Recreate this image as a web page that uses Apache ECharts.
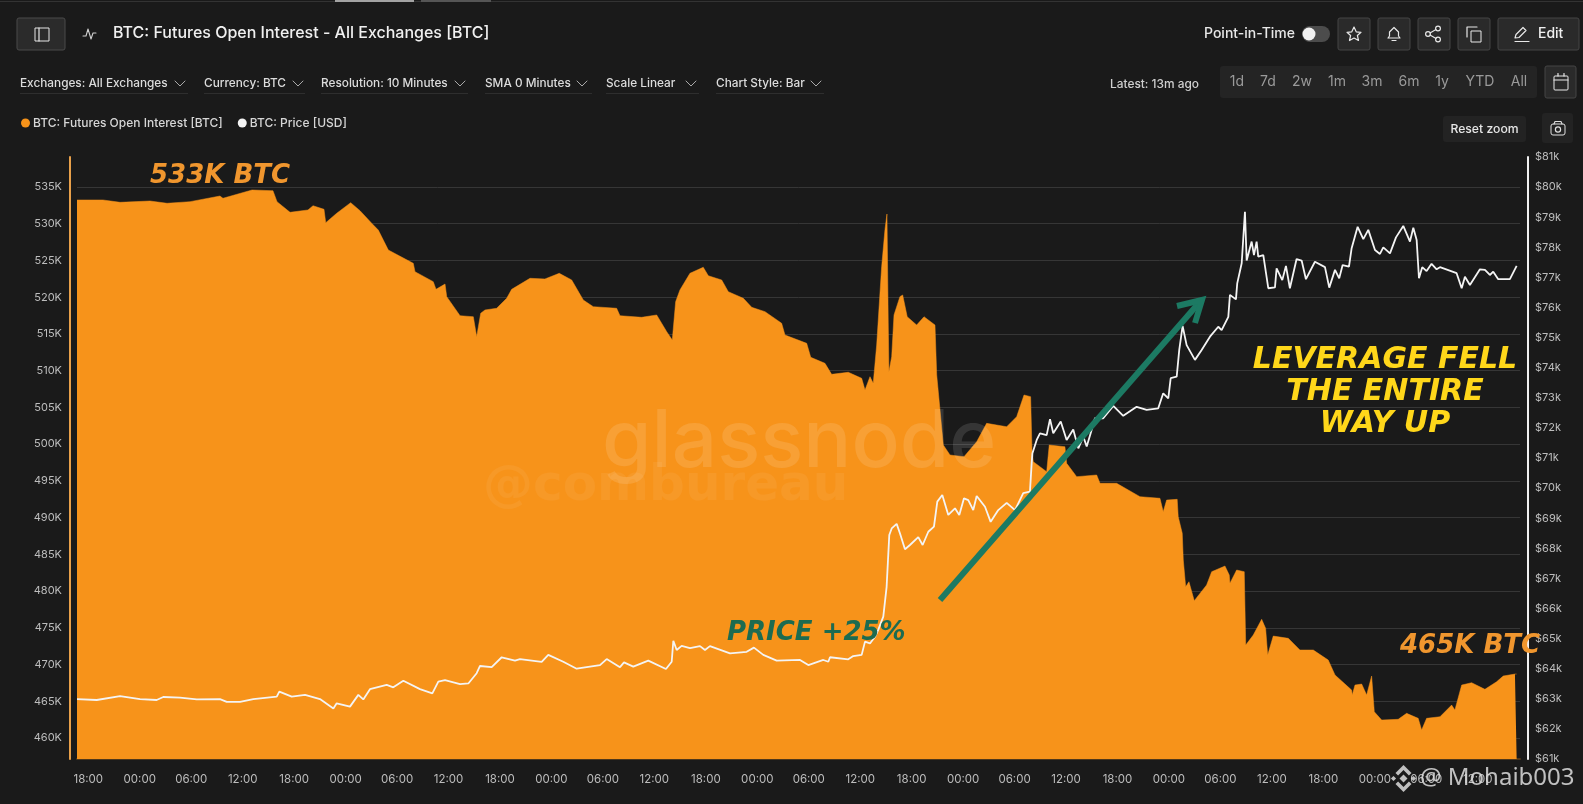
<!DOCTYPE html>
<html>
<head>
<meta charset="utf-8">
<style>html,body{margin:0;padding:0;background:#1a1a1a;overflow:hidden}#c{width:1583px;height:804px}</style>
<script src="https://cdn.jsdelivr.net/npm/echarts@6/dist/echarts.min.js"></script>
</head>
<body>
<div id="c"></div>
<script>
// hours since the midnight before the first 18:00 tick
var oiHours = [16.68,19.71,21.70,25.19,27.18,29.86,33.35,33.70,37.09,39.53,40.00,41.52,43.61,44.20,45.48,45.68,46.96,48.59,49.68,51.04,51.81,52.98,55.89,56.09,58.22,58.54,59.59,59.79,61.34,62.89,63.28,63.75,64.25,65.61,66.78,67.36,69.50,71.24,72.91,74.36,75.71,76.88,79.60,79.99,82.52,84.27,85.44,86.09,86.48,86.98,88.15,89.70,90.29,91.85,92.62,94.37,95.35,96.90,98.84,99.23,101.76,102.23,103.89,104.67,106.61,108.17,108.56,109.14,109.52,109.92,110.50,110.89,111.12,111.27,111.35,111.67,111.94,112.63,112.95,113.48,114.58,115.44,116.72,116.92,117.69,118.47,120.10,121.58,122.74,125.08,126.24,127.10,127.87,128.03,128.18,129.74,130.04,131.87,132.07,133.24,135.57,135.96,137.90,140.62,142.95,143.33,143.73,144.96,145.08,145.55,145.67,145.95,146.33,146.95,148.39,148.98,150.53,151.03,151.11,151.89,152.78,152.95,153.83,154.81,155.27,155.51,156.16,157.91,159.27,160.83,162.57,163.36,165.30,165.37,165.69,166.47,167.05,167.63,167.82,167.94,168.80,170.73,171.71,173.06,173.46,174.04,175.60,176.96,177.34,178.13,179.29,180.84,182.20,182.97,184.34,184.54];
var oiValues = [533.23,533.23,532.91,533.09,532.78,533.00,533.77,533.46,534.59,534.49,533.00,531.55,531.87,532.45,531.96,530.14,531.42,532.86,531.77,530.06,529.14,526.42,524.61,523.47,522.11,521.07,521.79,520.07,517.48,517.34,514.62,517.81,518.26,518.49,519.85,521.07,522.57,522.48,523.25,522.34,519.62,518.71,518.49,517.48,517.26,517.58,515.30,514.17,519.39,520.98,523.25,524.07,522.92,522.34,520.75,519.85,518.62,518.03,516.45,514.85,513.72,511.82,511.00,509.50,509.78,508.96,507.37,509.18,508.28,513.49,524.15,529.24,531.32,516.49,509.86,511.90,517.58,520.07,520.30,517.34,516.21,517.34,516.21,509.41,499.88,498.52,498.29,500.33,502.83,502.37,503.73,506.69,506.46,499.20,497.61,496.25,499.88,499.65,497.39,495.57,495.80,494.67,494.67,492.85,492.63,490.80,492.39,492.49,490.12,487.86,484.23,480.60,481.27,478.69,480.83,482.64,483.41,482.19,481.06,482.87,482.64,472.66,474.02,476.16,474.93,471.30,473.88,473.57,471.98,471.98,470.62,468.58,466.53,465.85,467.21,467.35,465.85,468.44,468.35,463.58,462.45,462.55,463.36,462.68,461.09,462.68,462.90,464.49,463.81,467.21,467.53,466.63,467.66,468.44,468.71,468.71];
var priceHours = [16.68,18.98,21.70,24.03,25.97,26.74,28.69,30.64,33.35,34.14,35.69,37.24,39.97,40.27,41.72,43.27,45.01,46.57,46.96,48.51,49.48,50.06,50.84,52.79,53.56,54.73,56.67,58.11,58.81,59.59,61.34,62.31,63.28,63.67,65.03,66.20,67.75,68.33,70.86,71.63,73.38,74.94,77.66,78.44,79.99,80.46,81.54,83.29,85.35,86.02,86.21,86.60,87.18,88.15,89.32,89.90,90.48,92.82,94.76,95.61,96.70,98.26,100.98,101.95,103.70,104.28,104.48,106.61,107.19,108.17,108.56,109.14,109.72,110.10,110.69,111.08,111.39,111.67,112.25,112.63,113.22,113.80,114.77,115.28,115.94,116.60,116.99,117.57,118.27,119.05,119.55,120.10,120.60,121.18,121.58,122.55,123.21,124.10,125.08,126.05,127.01,127.79,127.99,128.08,128.58,128.96,129.74,130.13,130.51,131.38,132.07,132.84,133.43,134.01,134.41,134.87,135.37,136.34,137.51,138.67,140.23,141.40,142.75,143.33,143.92,144.20,144.90,145.20,145.59,146.06,147.03,147.81,148.78,149.75,150.14,150.92,151.11,151.81,151.96,152.48,152.86,153.06,153.64,153.91,154.22,154.41,155.00,155.58,156.36,156.55,157.21,157.64,158.10,158.88,159.47,159.97,161.02,162.19,162.69,163.36,163.85,164.25,164.99,165.30,166.00,166.66,167.24,168.02,168.60,168.99,169.77,170.47,171.32,172.10,172.49,172.88,173.15,173.53,174.04,174.62,175.21,175.60,177.54,178.13,178.51,179.09,180.26,180.84,181.42,181.81,182.39,183.75,184.54];
var priceValues = [62.99,62.96,63.09,62.99,62.96,63.06,63.04,62.98,62.99,62.90,62.90,62.99,63.07,63.24,63.07,63.13,62.99,62.68,62.85,62.74,63.13,62.98,63.32,63.46,63.38,63.60,63.32,63.18,63.57,63.62,63.49,63.51,63.85,64.09,64.05,64.38,64.27,64.32,64.23,64.46,64.23,64.00,64.12,64.32,64.05,64.21,64.07,64.27,63.99,64.23,64.93,64.62,64.76,64.68,64.75,64.62,64.75,64.51,64.56,64.70,64.46,64.27,64.29,64.12,64.29,64.23,64.38,64.31,64.42,64.46,64.90,64.84,65.06,65.29,65.73,66.72,68.44,68.66,68.81,68.50,67.97,68.11,68.37,68.11,68.55,68.72,69.55,69.77,69.11,69.33,69.11,69.66,69.60,69.27,69.74,69.38,68.88,69.27,69.51,69.27,69.83,69.88,70.82,71.16,71.60,71.82,71.76,72.29,71.82,72.21,71.60,71.95,71.32,71.71,71.38,71.82,72.32,72.32,72.73,72.40,72.70,72.60,72.65,73.15,72.98,73.65,73.70,74.59,75.39,74.75,74.26,74.59,75.03,75.36,75.25,75.69,76.42,76.27,76.80,77.47,79.18,77.56,78.19,77.74,78.19,77.69,77.74,76.64,76.67,77.30,76.91,77.38,76.64,77.61,77.56,76.94,77.52,77.34,76.66,77.25,76.97,77.41,77.36,77.97,78.68,78.27,78.58,77.91,77.78,78.00,77.80,78.33,78.71,78.19,78.65,78.24,76.97,77.34,77.21,77.45,77.27,77.34,77.14,76.64,77.02,76.75,77.27,77.25,77.08,77.19,76.94,76.94,77.38];
var seriesNames = ['BTC: Futures Open Interest [BTC]','BTC: Price [USD]'];
var toolbarLabels = ['Exchanges: All Exchanges','Currency: BTC','Resolution: 10 Minutes','SMA 0 Minutes','Scale Linear','Chart Style: Bar'];
var rangeLabels = ['1d','7d','2w','1m','3m','6m','1y','YTD','All'];
var oiTicks = [460,465,470,475,480,485,490,495,500,505,510,515,520,525,530,535];
var hourTicks = [18,24,30,36,42,48,54,60,66,72,78,84,90,96,102,108,114,120,126,132,138,144,150,156,162,168,174,180];

var UI = 'Inter, "Noto Sans", sans-serif';
var ANNO = 'italic bold ';
var ANNOF = 'px "DejaVu Sans"';
var G = [];
function rect(x,y,w,h,fill,stroke,r){G.push({type:'rect',z:100,silent:true,shape:{x:x,y:y,width:w,height:h,r:r||0},style:{fill:fill||'none',stroke:stroke||'none',lineWidth:1}});}
function txt(x,y,s,font,fill,align,z){G.push({type:'text',z:z||101,silent:true,style:{x:x,y:y,text:s,font:font,fill:fill,textAlign:align||'left',textVerticalAlign:'middle'}});}
function line(pts,color,w,z){G.push({type:'polyline',z:z||101,silent:true,shape:{points:pts},style:{stroke:color,fill:'none',lineWidth:w||1.2,lineJoin:'round',lineCap:'round'}});}
function circ(x,y,r,fill,stroke,w){G.push({type:'circle',z:101,silent:true,shape:{cx:x,cy:y,r:r},style:{fill:fill||'none',stroke:stroke||'none',lineWidth:w||1.2}});}

// top strip
rect(0,1,1583,1,'#333');
rect(335,0,79,2,'#a3a3a3');
rect(421,0,70,2,'#555');
// header left
rect(17,18,48,32,'#2b2b2b','#4a4a4a',2);
rect(35,28,14,13,null,'#e6e6e6');line([[39,28],[39,41]],'#e6e6e6',1.2);
line([[83,36],[86,36],[88,29],[91,39],[93,33],[96,33]],'#cfcfcf',1.1);
txt(113,33.5,'BTC: Futures Open Interest - All Exchanges [BTC]','500 16px '+UI,'#f0f0f0');
// toolbar row
var tbX=[20,204,321,485,606,716], tbChev=[180,298,460,582,691,816], tbEnd=[188,305,468,592,699,824];
toolbarLabels.forEach(function(s,i){
  txt(tbX[i],83,s,'500 11.8px '+UI,'#dcdcdc');
  var c=tbChev[i];line([[c-5,81],[c,86],[c+5,81]],'#aaa',1);
  rect(tbX[i],93,tbEnd[i]-tbX[i],1,'#2e2e2e');
});
// header right
txt(1204,34,'Point-in-Time','500 14px '+UI,'#e8e8e8');
rect(1302,26,28,16,'#4c4c4c',null,8);circ(1309,34,6.5,'#f2f2f2');
[1338,1378,1418,1458].forEach(function(x){rect(x,18,32,32,'#2a2a2a','#444',2);});
line([[1354,27],[1356.2,31.8],[1361,32.3],[1357.4,35.5],[1358.5,40.5],[1354,38],[1349.5,40.5],[1350.6,35.5],[1347,32.3],[1351.8,31.8],[1354,27]],'#e8e8e8',1.2);
line([[1388,38],[1389.5,36],[1389.5,32],[1394,27.5],[1398.5,32],[1398.5,36],[1400,38],[1388,38]],'#e8e8e8',1.2);line([[1392,40.5],[1396,40.5]],'#e8e8e8',1.2);
circ(1428,34,2.4,null,'#e8e8e8');circ(1438,28.5,2.4,null,'#e8e8e8');circ(1438,39.5,2.4,null,'#e8e8e8');
line([[1430,33],[1436,29.5]],'#e8e8e8',1.1);line([[1430,35],[1436,38.5]],'#e8e8e8',1.1);
rect(1471,31,10,11,null,'#e8e8e8');line([[1467,37],[1467,27],[1477,27]],'#e8e8e8',1.2);
rect(1498,18,81,32,'#2a2a2a','#444',2);
line([[1515,38],[1516,34.5],[1523,27.5],[1526,30.5],[1519,37.5],[1515,38]],'#e8e8e8',1.2);line([[1515,41.5],[1529,41.5]],'#e8e8e8',1.2);
txt(1538,34,'Edit','500 14px '+UI,'#f0f0f0');
// range row
txt(1110,84,'Latest: 13m ago','500 11.9px '+UI,'#cfcfcf');
rect(1220,66,317,32,'#242424',null,3);
var rangeX=[1237,1268,1302,1337,1372,1409,1442,1480,1519];
rangeLabels.forEach(function(s,i){txt(rangeX[i],82,s,'14px '+UI,'#9a9a9a','center');});
rect(1545,66,31,32,'#2a2a2a','#444',2);
rect(1554,76,14,14,null,'#e8e8e8',1);line([[1554,80],[1568,80]],'#e8e8e8',1.2);line([[1558,73.5],[1558,76]],'#e8e8e8',1.2);line([[1564,73.5],[1564,76]],'#e8e8e8',1.2);
// reset zoom
rect(1443,116,83,26,'#232323',null,3);
txt(1484.5,129,'Reset zoom','500 12.2px '+UI,'#e6e6e6','center');
rect(1542,113,31,30,'#232323',null,3);
rect(1551,124,14,11,null,'#e0e0e0',2);circ(1558,129.5,2.6,null,'#e0e0e0');line([[1554,124],[1555,121.5],[1561,121.5],[1562,124]],'#e0e0e0',1.1);

// annotations
txt(150,176,'533K BTC',ANNO+'26'+ANNOF,'#f0962e');
txt(1400,646,'465K BTC',ANNO+'26'+ANNOF,'#f0962e','left',104);
txt(727,633,'PRICE +25%',ANNO+'26'+ANNOF,'#1d6b50');
txt(1385,360,'LEVERAGE FELL',ANNO+'30'+ANNOF,'#ffd71a','center');
txt(1385,392,'THE ENTIRE',ANNO+'30'+ANNOF,'#ffd71a','center');
txt(1385,424,'WAY UP',ANNO+'30'+ANNOF,'#ffd71a','center');
G.push({type:'polyline',z:103,silent:true,shape:{points:[[940,600],[1198,304]]},style:{stroke:'#1c7a63',lineWidth:6,fill:'none'}});
G.push({type:'polyline',z:103,silent:true,shape:{points:[[1177,306],[1202,300],[1195,323]]},style:{stroke:'#1c7a63',lineWidth:6,fill:'none',lineJoin:'miter'}});
// watermarks
txt(602,443,'glassnode','500 80px Inter','rgba(255,255,255,0.12)','left',99);
txt(483,487,'@combureau','bold 50px "DejaVu Sans"','rgba(255,255,255,0.06)','left',99);
// bottom-right mark
txt(1420,778,'@ Mohaib003','24px "Noto Sans"','rgba(222,222,222,0.85)','left',105);
var LOGO='rgba(222,222,222,0.85)', LX=1403.5, LY=778.5;
[
 [[0,-4],[4,0],[0,4],[-4,0]],
 [[-10,-2.6],[-7.4,0],[-10,2.6],[-12.6,0]],
 [[10,-2.6],[12.6,0],[10,2.6],[7.4,0]],
 [[0,-13.5],[8,-5.5],[5.4,-3],[0,-8.4],[-5.4,-3],[-8,-5.5]],
 [[0,13.5],[8,5.5],[5.4,3],[0,8.4],[-5.4,3],[-8,5.5]]
].forEach(function(p){
  G.push({type:'polygon',z:105,silent:true,shape:{points:p.map(function(q){return [LX+q[0],LY+q[1]];})},style:{fill:LOGO}});
});

function zip(a,b){return a.map(function(v,i){return [v,b[i]];});}
var chart = echarts.init(document.getElementById('c'),null,{renderer:'canvas'});
chart.setOption({
  animation:false,
  backgroundColor:'#1a1a1a',
  textStyle:{fontFamily:UI},
  legend:{left:16,top:112,icon:'circle',itemWidth:9,itemHeight:9,itemGap:15,
    textStyle:{color:'#d6d6d6',fontSize:12,fontFamily:UI,fontWeight:500,padding:[0,0,0,-2]},
    data:seriesNames},
  grid:{left:77,right:63,top:157,height:602,containLabel:false},
  xAxis:{type:'value',min:16.68,max:184.93,splitLine:{show:false},
    axisLine:{show:true,lineStyle:{color:'#50381a',width:2}},axisTick:{show:false,customValues:hourTicks},
    axisLabel:{customValues:hourTicks,color:'#bdbdbd',fontSize:11.5,fontFamily:UI,margin:15,
      formatter:function(v){var h=v%24;return (h<10?'0':'')+h+':00';}}},
  yAxis:[
    {type:'value',position:'left',offset:7,min:457.15,max:539.08,
     axisLine:{show:true,onZero:false,lineStyle:{color:'#e8a04a',width:2}},axisTick:{show:false,customValues:oiTicks},
     splitLine:{show:true,lineStyle:{color:'#363636',width:1}},
     axisLabel:{customValues:oiTicks,color:'#bdbdbd',fontSize:11,fontFamily:UI,margin:8,
       formatter:function(v){return v+'K';}}},
    {type:'value',position:'right',offset:8,min:61,max:81,interval:1,
     axisLine:{show:true,onZero:false,lineStyle:{color:'#f0f0f0',width:2}},axisTick:{show:false},splitLine:{show:false},
     axisLabel:{color:'#bdbdbd',fontSize:11,fontFamily:UI,margin:7,formatter:function(v){return '$'+v+'k';}}}
  ],
  series:[
    {name:seriesNames[0],type:'line',yAxisIndex:0,data:zip(oiHours,oiValues),showSymbol:false,
     lineStyle:{width:0.5,color:'#f7931a'},itemStyle:{color:'#f7931a'},areaStyle:{color:'#f7931a',opacity:1},z:2},
    {name:seriesNames[1],type:'line',yAxisIndex:1,data:zip(priceHours,priceValues),showSymbol:false,
     lineStyle:{width:1.8,color:'#f4f4f4'},itemStyle:{color:'#f4f4f4'},z:3}
  ],
  graphic:{elements:G}
});
</script>
</body>
</html>
